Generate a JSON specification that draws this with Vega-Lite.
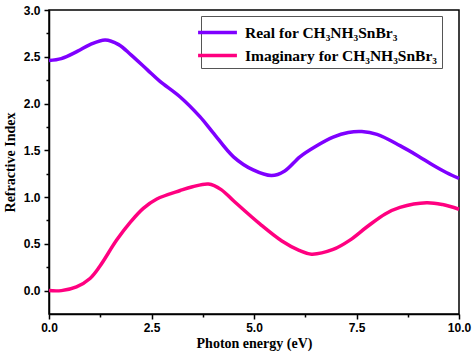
{
  "$schema": "https://vega.github.io/schema/vega-lite/v6.json",
  "autosize": "none",
  "width": 410,
  "height": 304,
  "padding": {"left": 49, "top": 10, "right": 15, "bottom": 43},
  "background": "white",
  "config": {"view": {"stroke": "black", "strokeWidth": 1.5}},
  "data": {"values": [
    {"e": 0, "n": 2.46, "s": "Real for CH₃NH₃SnBr₃"},
    {"e": 0.3, "n": 2.48, "s": "Real for CH₃NH₃SnBr₃"},
    {"e": 0.7, "n": 2.56, "s": "Real for CH₃NH₃SnBr₃"},
    {"e": 1.0, "n": 2.63, "s": "Real for CH₃NH₃SnBr₃"},
    {"e": 1.37, "n": 2.68, "s": "Real for CH₃NH₃SnBr₃"},
    {"e": 1.7, "n": 2.63, "s": "Real for CH₃NH₃SnBr₃"},
    {"e": 2.0, "n": 2.52, "s": "Real for CH₃NH₃SnBr₃"},
    {"e": 2.4, "n": 2.36, "s": "Real for CH₃NH₃SnBr₃"},
    {"e": 2.7, "n": 2.24, "s": "Real for CH₃NH₃SnBr₃"},
    {"e": 3.2, "n": 2.07, "s": "Real for CH₃NH₃SnBr₃"},
    {"e": 3.68, "n": 1.86, "s": "Real for CH₃NH₃SnBr₃"},
    {"e": 4.0, "n": 1.69, "s": "Real for CH₃NH₃SnBr₃"},
    {"e": 4.5, "n": 1.43, "s": "Real for CH₃NH₃SnBr₃"},
    {"e": 4.98, "n": 1.29, "s": "Real for CH₃NH₃SnBr₃"},
    {"e": 5.43, "n": 1.23, "s": "Real for CH₃NH₃SnBr₃"},
    {"e": 5.75, "n": 1.28, "s": "Real for CH₃NH₃SnBr₃"},
    {"e": 6.12, "n": 1.43, "s": "Real for CH₃NH₃SnBr₃"},
    {"e": 6.5, "n": 1.54, "s": "Real for CH₃NH₃SnBr₃"},
    {"e": 6.93, "n": 1.64, "s": "Real for CH₃NH₃SnBr₃"},
    {"e": 7.3, "n": 1.69, "s": "Real for CH₃NH₃SnBr₃"},
    {"e": 7.63, "n": 1.70, "s": "Real for CH₃NH₃SnBr₃"},
    {"e": 8.0, "n": 1.67, "s": "Real for CH₃NH₃SnBr₃"},
    {"e": 8.56, "n": 1.55, "s": "Real for CH₃NH₃SnBr₃"},
    {"e": 9.0, "n": 1.44, "s": "Real for CH₃NH₃SnBr₃"},
    {"e": 9.37, "n": 1.34, "s": "Real for CH₃NH₃SnBr₃"},
    {"e": 9.7, "n": 1.26, "s": "Real for CH₃NH₃SnBr₃"},
    {"e": 10, "n": 1.20, "s": "Real for CH₃NH₃SnBr₃"},
    {"e": 0, "n": 0.0, "s": "Imaginary for CH₃NH₃SnBr₃"},
    {"e": 0.3, "n": 0.0, "s": "Imaginary for CH₃NH₃SnBr₃"},
    {"e": 0.67, "n": 0.04, "s": "Imaginary for CH₃NH₃SnBr₃"},
    {"e": 1.0, "n": 0.13, "s": "Imaginary for CH₃NH₃SnBr₃"},
    {"e": 1.24, "n": 0.26, "s": "Imaginary for CH₃NH₃SnBr₃"},
    {"e": 1.65, "n": 0.54, "s": "Imaginary for CH₃NH₃SnBr₃"},
    {"e": 2.0, "n": 0.74, "s": "Imaginary for CH₃NH₃SnBr₃"},
    {"e": 2.3, "n": 0.88, "s": "Imaginary for CH₃NH₃SnBr₃"},
    {"e": 2.63, "n": 0.98, "s": "Imaginary for CH₃NH₃SnBr₃"},
    {"e": 3.2, "n": 1.07, "s": "Imaginary for CH₃NH₃SnBr₃"},
    {"e": 3.5, "n": 1.11, "s": "Imaginary for CH₃NH₃SnBr₃"},
    {"e": 3.89, "n": 1.14, "s": "Imaginary for CH₃NH₃SnBr₃"},
    {"e": 4.2, "n": 1.08, "s": "Imaginary for CH₃NH₃SnBr₃"},
    {"e": 4.5, "n": 0.96, "s": "Imaginary for CH₃NH₃SnBr₃"},
    {"e": 5.15, "n": 0.71, "s": "Imaginary for CH₃NH₃SnBr₃"},
    {"e": 5.68, "n": 0.53, "s": "Imaginary for CH₃NH₃SnBr₃"},
    {"e": 6.1, "n": 0.43, "s": "Imaginary for CH₃NH₃SnBr₃"},
    {"e": 6.4, "n": 0.39, "s": "Imaginary for CH₃NH₃SnBr₃"},
    {"e": 6.93, "n": 0.44, "s": "Imaginary for CH₃NH₃SnBr₃"},
    {"e": 7.34, "n": 0.54, "s": "Imaginary for CH₃NH₃SnBr₃"},
    {"e": 7.75, "n": 0.68, "s": "Imaginary for CH₃NH₃SnBr₃"},
    {"e": 8.2, "n": 0.82, "s": "Imaginary for CH₃NH₃SnBr₃"},
    {"e": 8.56, "n": 0.89, "s": "Imaginary for CH₃NH₃SnBr₃"},
    {"e": 9.21, "n": 0.94, "s": "Imaginary for CH₃NH₃SnBr₃"},
    {"e": 9.6, "n": 0.92, "s": "Imaginary for CH₃NH₃SnBr₃"},
    {"e": 10, "n": 0.87, "s": "Imaginary for CH₃NH₃SnBr₃"}
  ]},
  "mark": {"type": "line", "interpolate": "catmull-rom", "strokeWidth": 3.5},
  "encoding": {
    "x": {
      "field": "e", "type": "quantitative",
      "scale": {"domain": [0, 10], "nice": false, "zero": false},
      "axis": {
        "title": "Photon energy (eV)",
        "values": [0, 1.25, 2.5, 3.75, 5, 6.25, 7.5, 8.75, 10],
        "labelExpr": "datum.value % 2.5 == 0 ? format(datum.value, '.1f') : ''",
        "grid": false, "domainColor": "black", "domainWidth": 1.5,
        "tickColor": "black", "tickWidth": 1.5,
        "tickSize": {"condition": {"test": "datum.value % 2.5 == 0", "value": 5}, "value": 3},
        "labelFont": "Liberation Sans", "labelFontWeight": "bold", "labelFontSize": 12, "labelColor": "black",
        "labelPadding": 3, "labelFlush": false,
        "titleFont": "Liberation Serif", "titleFontWeight": "bold", "titleFontSize": 14, "titleColor": "black",
        "titlePadding": 3
      }
    },
    "y": {
      "field": "n", "type": "quantitative",
      "scale": {"domain": [-0.25, 3.0], "nice": false, "zero": false},
      "axis": {
        "title": "Refractive Index",
        "values": [0, 0.25, 0.5, 0.75, 1, 1.25, 1.5, 1.75, 2, 2.25, 2.5, 2.75, 3],
        "labelExpr": "datum.value % 0.5 == 0 ? format(datum.value, '.1f') : ''",
        "grid": false, "domainColor": "black", "domainWidth": 1.5,
        "tickColor": "black", "tickWidth": 1.5,
        "tickSize": {"condition": {"test": "datum.value % 0.5 == 0", "value": 5}, "value": 3},
        "labelFont": "Liberation Sans", "labelFontWeight": "bold", "labelFontSize": 12, "labelColor": "black",
        "labelPadding": 4, "labelFlush": false,
        "titleFont": "Liberation Serif", "titleFontWeight": "bold", "titleFontSize": 14, "titleColor": "black",
        "titlePadding": 6
      }
    },
    "color": {
      "field": "s", "type": "nominal",
      "scale": {"domain": ["Real for CH₃NH₃SnBr₃", "Imaginary for CH₃NH₃SnBr₃"], "range": ["#7f00ff", "#ff0080"]},
      "legend": {
        "title": null, "orient": "none", "legendX": 152, "legendY": 6,
        "strokeColor": "#555555", "fillColor": "white", "padding": 4,
        "symbolType": "M-1.85,0H1.85", "symbolSize": 441, "symbolStrokeWidth": 3.5,
        "labelFont": "Liberation Serif", "labelFontWeight": "bold", "labelFontSize": 15.5, "labelColor": "black",
        "labelLimit": 300, "rowPadding": 2, "labelOffset": 15
      }
    }
  }
}
